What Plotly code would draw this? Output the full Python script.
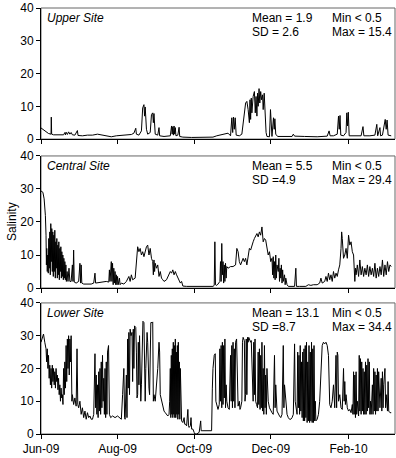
import pandas as pd
import plotly.graph_objects as go

START = "2009-06-01"

# ---------------- data (days since 1 Jun 2009, salinity) ----------------
upper_days = [0,2,4,6,8,8.2,8.5,10,14,18,19,19.5,20,21,22,23,24,25,27,29,29.5,33,37,41,45,48,52,56,60,64,68,72,74,75.5,76,78,80,81,82,82.5,83,84,85,87,88,89,89.5,90,91,93,94,94.5,98,103,104,104.5,105,105.5,106,106.5,107,107.5,109,110,110.5,113,120,130,137,140,145,149,151,152,152.7,153.3,154,154.7,155.5,158,160,162,163,164,165,166,166.5,167,167.5,168,169,170,170.7,171.3,172,172.5,173,173.7,174.3,175,175.7,176.5,177,177.8,178.5,179.3,180,182,182.8,183.4,184,185.2,185.8,186.3,187,188.5,194,200,201,202,210,220,228,229.5,230.3,233,236,237,237.6,238.2,238.8,241,243,243.6,244.2,244.8,245.5,250,255,256.5,257.2,262,266,267.5,268.2,270,270.5,272,273.5,274.2,275,275.7,276.5,279]
upper_sal = [3.4,2.8,2.2,1.7,1.5,6.7,1.5,1.3,1.2,1.3,2.0,1.3,2.1,1.4,2.2,1.5,2.0,1.3,1.2,2.6,1.1,1.0,1.2,1.2,1.5,1.3,0.9,0.7,1.0,1.1,1.2,1.4,1.8,3.3,1.5,1.2,2.5,9.5,10.5,7,9.8,3,1.5,2,7.5,8.0,5,7.8,1.5,1.2,3.5,1.0,0.8,1.0,4.0,1.5,3.8,1.2,4.0,1.5,3.5,1.0,1.2,3.6,0.8,0.6,0.5,0.5,0.6,1.0,1.5,1.8,1.0,6.5,2,6.7,3,6.5,1.2,1.0,1.5,8,11,11.5,9,5,12,6,12.5,8,13,14.5,8,13,7,14,10,15.4,11,14.5,12,13.5,9,14,6,2,0.8,0.7,9.0,1,0.8,6.5,3,6.2,1.5,0.8,0.7,0.8,1.5,0.9,0.8,0.7,0.9,2.5,1.0,1.0,1.5,7.0,3,7.2,1.2,1.0,2,8.0,4,8.2,1.0,0.9,1.0,3.8,1.0,1.0,1.2,4.5,1.0,3.5,1.0,1.2,5.5,6.0,3,5.8,1.2,1.0]

central_days = [0,1.5,2.5,3.5,4,4.3,4.6,5,5.4,5.8,6.2,6.6,7,7.4,7.8,8.2,8.6,9,9.4,9.8,10.2,10.6,11,11.4,11.8,12.2,12.6,13,13.4,13.8,14.2,14.6,15,15.4,15.8,16.2,16.6,17,17.4,17.8,18.2,18.6,19,19.4,19.8,20.2,20.8,21.5,22.3,23,24,25,25.5,26,26.5,28,30,31,31.5,32,32.5,34,40,42,43,43.5,48,52,54,54.5,55,56,56.5,57,57.5,58,58.5,59,59.5,60,60.5,61,61.5,62.5,63,64,66,68,70,71,72,73,75,76,77,78,79,80,81,82,83,84,85,86,87,88,89,89.5,90,90.5,91,92,93,94,95,96,97,98,100,102,103,104,105,106,107,108,109,110,111,112,113,116,130,137,138,138.5,139,140,141,142.5,143,143.5,144,144.5,145,145.5,146,146.5,147,147.5,148,149,151,153,155,156,157,158,159,160,161,162,163,164,165,166,167,168,169,170,171,172,173,174,175,176,177,178,179,180,181,182,183,184,184.5,185,185.5,186,186.5,187,187.5,188,189,189.5,190,190.5,191,191.5,192,192.5,193,194,194.5,195,196,197,200,202,203,203.5,206,211,213,215,217,220,222,223,224,226,227,228,229,230,231,232,233,234,235,236,237,238,239,239.5,240,240.5,241,242,243,244,245,246,247,248,249,250,250.5,251,252,253,254,255,256,257,258,259,260,261,262,263,264,265,266,267,268,269,270,271,272,273,274,275,276,277,278,279]
central_sal = [29.4,29,27,22,16,7,12,5,10,4.5,15,6,17,4,19.5,8,18,5,17,3.5,16,5,17.5,3,14,6,15,3,13,4,14,2.5,12,5,12.5,3,11,3.5,10,2.5,9,3,8,2.5,7,2,5,2,6,2,2,7,2,11.5,1.8,1.5,2,7.5,1.5,7,1.5,1.2,1.2,1.5,4.5,1.5,1.8,2,1.8,5.5,2,8,2,7.5,1,6,1.5,5,1,4,1,3.5,1,3,1,1.5,1.2,2,3.5,2,4,2.5,3,8,12.5,11,12,10,11,9.5,11,12.5,13,10,12,9,8,4,8.5,5,7.5,6,7,3.5,5,3,2.5,2,2.5,4,5,4.5,5.5,4,5,4,3,2,1.5,2,0.6,0.5,0.5,0.5,0.8,14,1,0.8,1.2,2,8,2,13.5,4,8,1.5,7,2,7.5,3,6.5,6,6.5,6.5,7,12,11,8,7,8,9,8,9,7,10,12,11.5,13,14,15,16,16.5,15.5,17,16,18.5,14,15,14.5,12,10,11,8,9,4,9.5,3,8,2.5,10,3,7,5,9,2,6,3,7,1.5,5.5,2,4,1,3,1,0.5,0.5,0.5,6,0.5,0.5,0.5,1,0.8,1,1,1.5,3,1.5,2,3.5,2,4.5,2.5,4,2,5,3,4.5,3.5,5.5,7,12,17,15,10,9,10,12,9,16,13,14,11,10,2,6,4,7,3.5,8.5,4,6.5,3.5,6,4,7,3.5,6.5,4,6,3.5,7.5,3,6,3.5,6.5,4,8.5,3.5,7,4,8,5,7,6.5]

lower_days = [0,1,2,3,3.5,4,4.5,5,5.5,6,6.5,7,7.5,8,8.5,9,9.5,10,10.5,11,11.5,12,12.5,13,13.5,14,14.5,15,15.5,16,16.5,17,17.5,18,18.5,19,19.5,20,20.5,21,21.5,22,22.5,23,23.5,24,24.6,25,26,27,28,28.7,29.3,30,31,32,33,34,35,36,37,38,39,40,41,42,43,43.5,44,44.5,45,45.5,46,46.5,47,47.5,48,48.5,49,49.5,50,50.5,51,51.5,52,52.5,53,53.8,54.5,55.5,57,59,61,63,64,65,66,66.6,67,68,68.5,69,69.5,70,70.5,71,71.7,72.5,73,73.5,74,74.5,75.5,76,76.5,77,77.5,78,78.5,79,79.5,80,80.5,81.2,82,82.5,83,83.5,84,84.5,85,85.5,86,86.5,87,87.5,88.5,89,89.5,90,91,92,93,94,94.5,95,96,97,98,99,100,101,102,102.5,103,103.4,103.8,104.2,104.6,105,105.4,105.8,106.2,106.6,107,107.4,107.8,108.2,108.6,109,109.4,109.8,110.2,110.6,111,111.5,112,113,114,114.5,115,116,117,117.5,118,119,119.5,120,121,122,122.6,124,126,127.2,127.6,129,132,135,135.9,136.5,137,138,138.8,139.3,140,141,142,142.5,143,143.5,144,144.5,145,145.5,146,146.5,147,147.5,148,149,150,150.5,151,151.5,152,152.5,153,153.5,154,154.5,155,155.8,156.5,157,158,158.5,159,160,160.5,161,162,162.5,163,163.5,164,164.5,165,165.5,166,167,167.5,168,168.5,169,169.5,170,170.5,171,171.7,172.5,173,173.5,174,174.5,175,175.5,176,176.5,177,177.5,178,178.5,179,179.5,180,181,182,183,184,185,186,186.5,187,188,189,190,191,192,193,193.5,194,195,196,197,198,199,200,201,202,202.5,203,204,204.5,205,205.5,206,206.5,207,207.5,208,208.5,209,209.5,210,210.5,211,211.5,212,212.5,213,213.5,214,214.5,215,215.5,216,216.5,217,217.5,218,218.5,219,220,221,222,223,224,225,226,227,228,229,229.5,230,231,232,233,234,235,235.5,236,236.5,237,238,239,240,241,241.5,242,242.5,243,244,245,246,247,248,248.5,249,249.5,250,250.5,251,251.5,252,253,253.5,254,254.5,255,255.5,256,256.5,257,257.5,258,258.5,259,259.5,260,260.5,261,261.5,262,262.5,263,264,264.5,265,265.5,266,266.5,267,267.5,268,268.5,269,270,271,271.5,272,272.5,273,274,274.5,275,276,276.5,277,278,279]
lower_sal = [28,29.5,30.5,28,27,26,22,26,20,24,17,21,15,20,14,21,16,20,15,19,14,20,16,18,13.5,17,12,15,10,14,11,12,9,20,12,22,14,27,16,29,20,30,18,29,22,30,10,12,9,11,8.5,26,9,8,10,6,8,5,7,4.5,6.5,5,5.5,4.5,4.5,6,24.5,8,18,6,15,5,19,7,20,6,22,8,24,10,17,6,20,5,22,6,25,27,6,5,5.5,5,5.5,5,4.5,12,20,5,4.5,18,5,29,14,31,12,32,30,31,16,32,20,33,32.5,25,11,12,28,15,30,20,10,15,25,34.4,34,25,10,20,29,31,28,15,14,12,28,34,34,34.2,10,12,10,14,20,28,25,12,10,8,7,6.5,6,5.5,6,10,20,5,24,6,26,5,28,6,27,5,29,5,25,6,27,4.5,28,6,22,4.5,20,4,4,3.5,5,3,3,2.5,7.5,2.5,2,2.5,5,1.5,1.5,0.5,0,0,0.5,4,1,1,1,0.8,1,14,20,24,24.5,10,9,7.5,9,26,10,27,8,28,9,27,11,29,8,15,10,8,7.5,20,24,10,27,8,28,10,26,8,28,29,9,8.5,10,7.5,8,10,28,29.5,28.5,10,12,29,12,29.5,28,29.5,29,28,28.5,20,12,10,28,12,29,10,9,8,25,9,26,7.5,24,8,28,7,20,6,27,8,18,6,20,10,8,7,6.5,6,24,8,15,7,6,5.5,5,6,27,8,15,10,6,5,4.5,4.5,5,6,27.5,10,8,6,25,8,24,6,27,7,22,5,25,4,26,4,27,5,28,3.5,22,4,27,3.5,25,4,28,3.5,26,3.5,27,4,10,4,4.5,6,10,18,27,28,27.5,28,27,24,10,9,8,10,15,8,24,8,25,24,10,12,8,7.5,20,10,16,9,12,8,7,7.5,6.5,9,6,19,6,18,5,19,6,10,5.5,24,7,23,6,22,7,20,6,19,6,22,6,21,7,23,8,22,6,10,6,15,6,20,7,19,6,18,7,20,7,19,8,17,7,19,8,15,20,8,12,7,16,7,6.5,6.5]

site_names = ["Upper Site", "Central Site", "Lower Site"]
stat_mean = ["Mean = 1.9", "Mean = 5.5", "Mean = 13.1"]
stat_sd = ["SD = 2.6", "SD =4.9", "SD =8.7"]
stat_min = ["Min < 0.5", "Min < 0.5", "Min < 0.5"]
stat_max = ["Max = 15.4", "Max = 29.4", "Max = 34.4"]
y_ticks = [0, 10, 20, 30, 40]
x_tick_dates = ["2009-06-01", "2009-08-01", "2009-10-01", "2009-12-01", "2010-02-01"]
x_tick_text = ["Jun-09", "Aug-09", "Oct-09", "Dec-09", "Feb-10"]

series = [(upper_days, upper_sal), (central_days, central_sal), (lower_days, lower_sal)]
for d, v in series:
    assert len(d) == len(v), (len(d), len(v))
    assert all(b > a for a, b in zip(d, d[1:]))

# ---------------- figure ----------------
W, H = 396, 458
ML, MR, MT, MB = 41, 1, 5, 24
plot_h = H - MT - MB
# panel pixel extents (top, bottom) from top of page
panels_px = [(5, 137), (154, 287), (302, 434)]

def dom(top, bot):
    return [(H - MB - bot) / plot_h, (H - MB - top) / plot_h]

FONT = "Liberation Sans, Arial, Helvetica, sans-serif"
fig = go.Figure()
start = pd.Timestamp(START)
layout = dict(
    width=W, height=H,
    margin=dict(l=ML, r=MR, t=MT, b=MB),
    paper_bgcolor="white", plot_bgcolor="white",
    showlegend=False,
    font=dict(family=FONT, size=12, color="black"),
    shapes=[], annotations=[],
)
for i, (d, v) in enumerate(series):
    n = "" if i == 0 else str(i + 1)
    xs = start + pd.to_timedelta(d, unit="D")
    fig.add_trace(go.Scatter(x=xs, y=v, mode="lines", xaxis="x" + n, yaxis="y" + n,
                             line=dict(color="black", width=1), hoverinfo="skip"))
    top, bot = panels_px[i]
    ax = dict(
        domain=[0, 1], anchor="y" + n, type="date",
        range=["2009-06-01", "2010-03-10"],
        tickvals=x_tick_dates, ticktext=x_tick_text,
        showticklabels=(i == 2),
        ticks="outside", ticklen=4, tickwidth=1, tickcolor="black",
        showline=True, linecolor="black", linewidth=1,
        showgrid=False, zeroline=False,
        tickfont=dict(size=12, family=FONT),
    )
    if i:
        ax["matches"] = "x"
    layout["xaxis" + n] = ax
    layout["yaxis" + n] = dict(
        domain=dom(top, bot), anchor="x" + n,
        range=[0, 40], tickvals=y_ticks,
        ticks="outside", ticklen=4, tickwidth=1, tickcolor="black",
        showline=True, linecolor="black", linewidth=1,
        showgrid=False, zeroline=False,
        tickfont=dict(size=12, family=FONT),
    )
    xr = "x" + n + " domain"
    yr = "y" + n + " domain"
    layout["shapes"].append(dict(type="rect", xref=xr, yref=yr, x0=0, x1=1, y0=0, y1=1,
                                 line=dict(color="#666666", width=1), layer="below"))
    ph = bot - top
    y1 = 1 - 10.5 / ph
    y2 = 1 - 24 / ph
    layout["annotations"].append(dict(text="<i>" + site_names[i] + "</i>", xref=xr, yref=yr,
                                      x=4 / 354, y=y1, xanchor="left", yanchor="middle",
                                      showarrow=False, font=dict(size=12)))
    for txt, xx, yy in [(stat_mean[i], 209 / 354, y1), (stat_sd[i], 209 / 354, y2),
                        (stat_min[i], 289 / 354, y1), (stat_max[i], 289 / 354, y2)]:
        layout["annotations"].append(dict(text=txt, xref=xr, yref=yr, x=xx, y=yy,
                                          xanchor="left", yanchor="middle",
                                          showarrow=False, font=dict(size=12)))

d2 = dom(154, 287)
layout["annotations"].append(dict(text="Salinity", xref="paper", yref="paper",
                                  x=-29 / 354, y=(d2[0] + d2[1]) / 2,
                                  xanchor="center", yanchor="middle", textangle=-90,
                                  showarrow=False, font=dict(size=12)))
fig.update_layout(**layout)
fig.write_html("out.html", config={"displayModeBar": False},
               post_script="document.body.style.margin='0';document.body.style.padding='0';")
